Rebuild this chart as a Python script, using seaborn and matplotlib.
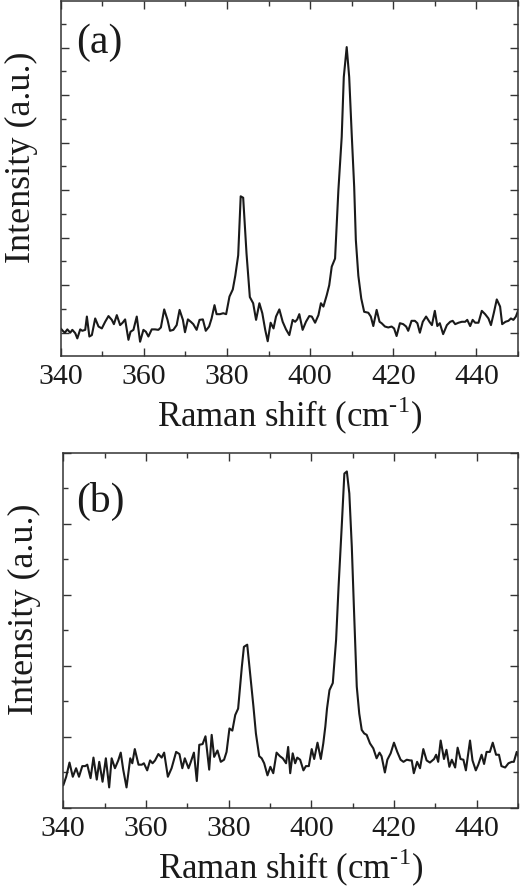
import pandas as pd
import seaborn as sns
import matplotlib.pyplot as plt
from matplotlib.ticker import MultipleLocator

# Raman spektrumu (a)
shift_a = [340.0, 340.5, 341.0, 341.6, 342.3, 342.8, 343.5, 344.0, 344.7, 345.2,
           345.9, 346.3, 346.9, 347.5, 348.3, 349.1, 349.9, 350.7, 351.5, 352.3,
           352.8, 353.5, 354.3, 354.9, 355.5, 356.3, 356.8, 357.5, 358.3, 359.1,
           359.9, 360.5, 361.1, 361.9, 362.7, 363.5, 364.1, 364.9, 365.7, 366.3,
           367.1, 367.9, 368.6, 369.4, 369.9, 370.6, 371.3, 371.9, 372.7, 373.4,
           374.2, 374.9, 375.7, 376.3, 377.0, 377.5, 378.3, 379.1, 379.8, 380.6,
           381.4, 382.0, 382.7, 383.3, 383.9, 384.7, 385.5, 386.3, 387.0, 387.8,
           388.5, 389.2, 389.8, 390.5, 391.2, 391.8, 392.6, 393.4, 394.2, 395.0,
           395.8, 396.4, 396.9, 397.4, 398.2, 399.0, 399.8, 400.4, 401.2, 402.0,
           402.6, 403.2, 404.0, 404.6, 405.2, 406.0, 406.8, 407.6, 408.1, 408.8,
           409.4, 410.0, 410.6, 411.0, 411.6, 412.3, 413.0, 414.0, 414.6, 415.2,
           416.0, 416.7, 417.2, 418.0, 418.8, 419.6, 420.2, 420.8, 421.6, 422.4,
           423.1, 423.6, 424.4, 425.2, 425.8, 426.4, 427.1, 427.9, 428.7, 429.3,
           430.0, 430.6, 431.2, 432.0, 432.9, 433.7, 434.3, 434.9, 435.7, 436.5,
           437.3, 437.8, 438.5, 439.1, 439.7, 440.5, 441.3, 442.1, 442.9, 443.5,
           444.2, 444.9, 445.7, 446.2, 447.0, 447.7, 448.3, 448.9, 449.5, 450.1]
intensity_a = [0.09, 0.04, 0.00, 0.07, 0.00, 0.06, -0.01, -0.12, 0.07, 0.04,
               0.06, 0.34, -0.08, -0.05, 0.30, 0.13, 0.09, 0.23, 0.35, 0.27,
               0.18, 0.37, 0.16, 0.21, 0.28, -0.15, 0.02, 0.06, 0.34, -0.19,
               0.06, 0.02, -0.08, 0.07, 0.07, 0.06, 0.11, 0.49, 0.27, 0.04,
               0.06, 0.16, 0.48, 0.27, 0.01, 0.28, 0.23, 0.18, 0.06, 0.27,
               0.28, 0.04, 0.13, 0.30, 0.58, 0.39, 0.39, 0.41, 0.39, 0.76,
               0.91, 1.20, 1.63, 2.87, 2.84, 1.67, 0.75, 0.62, 0.27, 0.62,
               0.41, 0.06, -0.18, 0.21, 0.09, 0.34, 0.49, 0.23, 0.07, -0.05,
               0.27, 0.23, 0.28, 0.39, 0.06, 0.23, 0.35, 0.34, 0.21, 0.37,
               0.62, 0.55, 0.79, 1.00, 1.39, 1.56, 3.00, 4.12, 5.38, 6.01,
               5.38, 4.19, 3.07, 1.95, 1.20, 0.72, 0.44, 0.42, 0.34, 0.14,
               0.48, 0.23, 0.20, 0.13, 0.11, 0.13, 0.09, -0.07, 0.20, 0.18,
               0.13, 0.04, 0.25, 0.25, 0.20, 0.00, 0.23, 0.34, 0.23, 0.16,
               0.46, 0.14, 0.20, -0.03, 0.16, 0.23, 0.25, 0.18, 0.21, 0.23,
               0.23, 0.27, 0.14, 0.27, 0.21, 0.21, 0.46, 0.39, 0.30, 0.16,
               0.42, 0.70, 0.55, 0.18, 0.23, 0.25, 0.30, 0.27, 0.34, 0.48]

# Raman spektrumu (b)
shift_b = [340.0, 340.7, 341.5, 342.3, 343.1, 343.8, 344.6, 345.3, 345.8, 346.6,
           347.3, 348.1, 348.7, 349.5, 350.3, 351.1, 351.7, 352.5, 353.3, 353.9,
           354.5, 355.3, 356.2, 356.7, 357.3, 358.2, 359.0, 359.5, 360.3, 361.0,
           361.6, 362.2, 363.0, 363.8, 364.4, 365.3, 366.2, 367.3, 368.1, 368.8,
           369.4, 370.3, 370.8, 371.6, 372.3, 372.9, 373.7, 374.4, 375.3, 375.9,
           376.5, 377.3, 378.1, 378.9, 379.5, 380.2, 380.9, 381.6, 382.3, 383.2,
           383.7, 384.5, 385.2, 386.0, 386.6, 387.4, 388.0, 388.6, 389.4, 390.1,
           390.8, 391.6, 392.4, 393.1, 393.9, 394.4, 394.9, 395.5, 396.1, 396.6,
           397.3, 398.1, 398.7, 399.4, 400.1, 400.7, 401.5, 402.3, 402.9, 403.4,
           403.8, 404.4, 405.2, 406.0, 406.6, 407.4, 408.0, 408.6, 409.2, 409.8,
           410.3, 411.0, 411.6, 412.2, 412.8, 413.4, 414.2, 415.0, 415.8, 416.5,
           417.0, 417.8, 418.4, 419.2, 420.0, 420.8, 421.6, 422.3, 423.1, 423.9,
           424.3, 424.8, 425.6, 426.3, 427.1, 427.9, 428.7, 429.7, 430.2, 430.7,
           431.3, 432.1, 432.7, 433.4, 434.0, 434.8, 435.4, 436.1, 436.8, 437.4,
           438.4, 439.0, 439.8, 440.4, 441.2, 441.8, 442.4, 443.2, 443.9, 444.7,
           445.4, 446.0, 446.9, 447.7, 448.5, 449.0, 449.7, 450.3]
intensity_b = [0.32, 0.44, 0.64, 0.44, 0.56, 0.44, 0.59, 0.59, 0.61, 0.42,
               0.71, 0.40, 0.65, 0.37, 0.70, 0.29, 0.70, 0.56, 0.67, 0.78,
               0.54, 0.29, 0.70, 0.63, 0.83, 0.61, 0.61, 0.63, 0.53, 0.67,
               0.63, 0.67, 0.76, 0.71, 0.78, 0.44, 0.56, 0.79, 0.76, 0.56,
               0.70, 0.56, 0.64, 0.78, 0.38, 0.89, 0.90, 1.01, 0.54, 1.03,
               0.72, 0.81, 0.65, 0.68, 0.79, 1.12, 1.09, 1.31, 1.40, 1.99,
               2.27, 2.30, 1.90, 1.43, 1.05, 0.73, 0.70, 0.63, 0.46, 0.58,
               0.49, 0.78, 0.73, 0.70, 0.63, 0.86, 0.49, 0.77, 0.63, 0.71,
               0.68, 0.53, 0.59, 0.59, 0.83, 0.69, 0.92, 0.69, 0.91, 1.15,
               1.40, 1.66, 1.76, 2.37, 3.12, 4.01, 4.71, 4.74, 4.43, 3.68,
               2.84, 1.71, 1.33, 1.10, 1.05, 1.03, 0.91, 0.84, 0.70, 0.78,
               0.73, 0.50, 0.68, 0.77, 0.92, 0.79, 0.68, 0.65, 0.68, 0.67,
               0.67, 0.49, 0.65, 0.56, 0.83, 0.67, 0.64, 0.69, 0.75, 0.65,
               0.95, 0.69, 0.82, 0.58, 0.68, 0.57, 0.85, 0.69, 0.68, 0.53,
               0.95, 0.67, 0.53, 0.61, 0.75, 0.62, 0.79, 0.79, 0.92, 0.75,
               0.75, 0.59, 0.57, 0.63, 0.65, 0.65, 0.79, 0.70]

panel_labels = ['(a)', '(b)']

sns.set_style("ticks")
plt.rcParams['font.family'] = ['Liberation Serif', 'DejaVu Serif']
plt.rcParams['mathtext.fontset'] = 'custom'
plt.rcParams['mathtext.rm'] = 'Liberation Serif'

fig = plt.figure(figsize=(5.2, 8.94), dpi=100)
ax1 = fig.add_axes([0.1167, 0.6018, 0.8794, 0.3971])
ax2 = fig.add_axes([0.1217, 0.0962, 0.8744, 0.3971])

df_a = pd.DataFrame({'shift': shift_a, 'intensity': intensity_a})
df_b = pd.DataFrame({'shift': shift_b, 'intensity': intensity_b})

panels = [(ax1, df_a, (-0.49, 6.98), 0.853, 0.033),
          (ax2, df_b, (0, 5), 0.835, 0.028)]

for (ax, df, ylim, ty, tx), lab in zip(panels, panel_labels):
    sns.lineplot(data=df, x='shift', y='intensity', ax=ax, color='#1a1a1a',
                 linewidth=1.5, estimator=None, sort=False)
    ax.set_xlim(340, 450)
    ax.set_ylim(*ylim)
    ax.xaxis.set_major_locator(MultipleLocator(20))
    ax.xaxis.set_minor_locator(MultipleLocator(10))
    ax.yaxis.set_major_locator(MultipleLocator(1))
    ax.yaxis.set_minor_locator(MultipleLocator(0.5))
    ax.tick_params(which='both', direction='in', top=True, right=True,
                   colors='#333333', width=1)
    ax.tick_params(which='major', length=6, labelsize=21.5, pad=6,
                   labelcolor='#1a1a1a')
    ax.tick_params(which='minor', length=3.5)
    ax.tick_params(axis='y', labelleft=False)
    for s in ax.spines.values():
        s.set_linewidth(1.1)
        s.set_color('#333333')
    ax.set_xlabel(r'Raman shift (cm$^{\text{-1}}$)', fontsize=25,
                  labelpad=3, color='#1a1a1a')
    # eksen etiketi sol kenara tasmasin diye biraz iceri alindi
    ax.set_ylabel('Intensity (a.u.)', fontsize=26, color='#1a1a1a')
    ax.yaxis.set_label_coords(-0.05, 0.56)
    ax.text(tx, ty, lab, transform=ax.transAxes, fontsize=30,
            va='baseline', color='#1a1a1a')

plt.savefig('out.png', dpi=100)
